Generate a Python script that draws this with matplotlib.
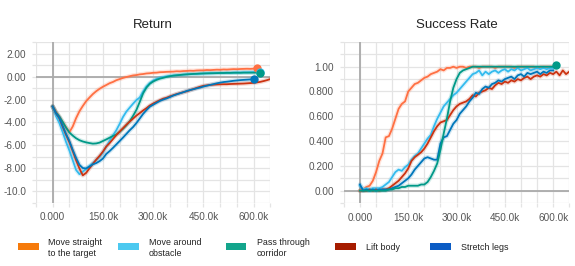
import numpy as np
import matplotlib
matplotlib.use("Agg")
import matplotlib.pyplot as plt
from matplotlib.patches import Rectangle
from matplotlib.ticker import MultipleLocator, FixedLocator, FixedFormatter

plt.rcParams['font.family'] = ['Liberation Sans', 'DejaVu Sans']

# training steps (k), one sample every 10k
steps = np.arange(0, 651, 10) * 1000

labels = ["Move straight\nto the target", "Move around\nobstacle", "Pass through\ncorridor",
          "Lift body", "Stretch legs"]
line_colors = ["#ff7043", "#33bbee", "#009988", "#cc3311", "#0077bb"]
legend_colors = ["#f67a0a", "#4cc9f0", "#13a58c", "#a61c00", "#0b5cc4"]

# Return
ret_straight = [-2.60, -3.08, -3.52, -3.97, -4.42, -4.85, -4.35, -3.62, -3.02, -2.56,
                -2.14, -1.82, -1.52, -1.27, -1.06, -0.88, -0.73, -0.57, -0.46, -0.31,
                -0.21, -0.11, -0.03, 0.04, 0.11, 0.14, 0.20, 0.23, 0.28, 0.30,
                0.34, 0.35, 0.39, 0.40, 0.42, 0.43, 0.44, 0.47, 0.46, 0.49,
                0.50, 0.52, 0.51, 0.54, 0.55, 0.55, 0.58, 0.57, 0.59, 0.61,
                0.60, 0.63, 0.62, 0.64, 0.66, 0.65, 0.67, 0.68, 0.69, 0.68,
                0.70, 0.73]
ret_obstacle = [-2.60, -3.45, -4.05, -4.85, -5.70, -6.45, -7.30, -8.15, -8.52, -8.30,
                -8.05, -7.80, -7.55, -7.28, -7.00, -6.62, -6.12, -5.60, -5.12, -4.68,
                -4.12, -3.52, -3.05, -2.70, -2.36, -2.04, -1.82, -1.30, -0.86, -0.55,
                -0.34, -0.20, -0.10, -0.03, 0.03, 0.07, 0.10, 0.13, 0.15, 0.18,
                0.20, 0.22, 0.23, 0.25, 0.26, 0.28, 0.29, 0.29, 0.31, 0.32,
                0.33, 0.33, 0.35, 0.34, 0.36, 0.37, 0.36, 0.38, 0.38, 0.39,
                0.40, 0.41, 0.42]
ret_corridor = [-2.60, -3.12, -3.48, -3.95, -4.45, -4.88, -5.15, -5.38, -5.55, -5.66,
                -5.74, -5.80, -5.85, -5.83, -5.76, -5.62, -5.48, -5.33, -5.18, -5.05,
                -4.82, -4.55, -4.25, -3.90, -3.42, -2.90, -2.20, -1.45, -0.95, -0.62,
                -0.42, -0.28, -0.17, -0.10, -0.02, 0.04, 0.09, 0.12, 0.15, 0.18,
                0.20, 0.22, 0.24, 0.25, 0.27, 0.28, 0.29, 0.30, 0.30, 0.31,
                0.32, 0.32, 0.33, 0.33, 0.34, 0.34, 0.34, 0.35, 0.35, 0.35,
                0.35, 0.36, 0.36]
ret_lift = [-2.60, -3.20, -3.62, -4.38, -5.08, -5.72, -6.50, -7.30, -8.02, -8.62,
            -8.40, -8.00, -7.62, -7.25, -6.92, -6.55, -6.10, -5.80, -5.45, -5.10,
            -4.80, -4.50, -4.20, -3.92, -3.66, -3.40, -3.18, -2.95, -2.75, -2.52,
            -2.35, -2.20, -2.05, -1.92, -1.84, -1.72, -1.62, -1.52, -1.44, -1.35,
            -1.28, -1.18, -1.08, -0.98, -0.88, -0.80, -0.76, -0.72, -0.70, -0.68,
            -0.67, -0.66, -0.66, -0.64, -0.63, -0.62, -0.61, -0.60, -0.58, -0.56,
            -0.54, -0.50, -0.45, -0.38, -0.30, -0.20]
ret_stretch = [-2.60, -3.18, -3.60, -4.30, -5.00, -5.62, -6.40, -7.10, -7.70, -7.98,
               -8.02, -7.85, -7.65, -7.55, -7.38, -7.15, -6.75, -6.50, -6.22, -5.92,
               -5.62, -5.32, -5.00, -4.68, -4.40, -4.05, -3.65, -3.25, -2.92, -2.62,
               -2.45, -2.28, -2.12, -2.00, -1.90, -1.78, -1.65, -1.55, -1.45, -1.36,
               -1.25, -1.17, -1.10, -1.02, -0.95, -0.86, -0.79, -0.72, -0.65, -0.58,
               -0.52, -0.47, -0.44, -0.40, -0.36, -0.33, -0.30, -0.28, -0.26, -0.24,
               -0.23]

# Success rate
succ_straight = [0.00, 0.01, 0.03, 0.04, 0.08, 0.15, 0.24, 0.30, 0.43, 0.44,
                 0.50, 0.58, 0.66, 0.70, 0.72, 0.80, 0.83, 0.86, 0.87, 0.89,
                 0.91, 0.92, 0.94, 0.95, 0.96, 0.98, 0.97, 0.99, 0.99, 1.00,
                 0.99, 1.00, 1.00, 0.99, 1.00, 1.00, 1.00, 0.99, 1.00, 1.00,
                 1.00, 1.00, 0.99, 1.00, 1.00, 1.00, 1.00, 1.00, 0.99, 1.00,
                 1.00, 1.00, 1.00, 1.00, 1.00, 0.99, 1.00, 1.00, 1.00, 1.00,
                 1.00]
succ_obstacle = [0.04, 0.01, 0.02, 0.01, 0.02, 0.02, 0.02, 0.03, 0.05, 0.07,
                 0.11, 0.15, 0.17, 0.16, 0.19, 0.21, 0.25, 0.28, 0.30, 0.34,
                 0.38, 0.42, 0.45, 0.52, 0.58, 0.63, 0.68, 0.71, 0.74, 0.77,
                 0.79, 0.82, 0.85, 0.88, 0.91, 0.94, 0.95, 0.97, 0.93, 0.96,
                 0.94, 0.96, 0.97, 0.95, 0.97, 0.98, 0.96, 0.98, 0.97, 0.99,
                 0.97, 0.98, 0.99, 0.97, 0.98, 0.99, 0.98, 0.99, 0.98, 0.99,
                 0.99, 1.00]
succ_corridor = [0.00, 0.00, 0.00, 0.00, 0.00, 0.00, 0.00, 0.00, 0.00, 0.01,
                 0.01, 0.02, 0.02, 0.03, 0.03, 0.04, 0.04, 0.04, 0.04, 0.05,
                 0.05, 0.07, 0.11, 0.16, 0.22, 0.33, 0.46, 0.58, 0.72, 0.83,
                 0.90, 0.95, 0.97, 0.98, 0.99, 1.00, 1.00, 1.00, 1.00, 1.00,
                 1.00, 1.00, 1.00, 1.00, 1.00, 1.00, 1.00, 1.00, 1.00, 1.00,
                 1.00, 1.00, 1.00, 1.00, 1.00, 1.00, 1.00, 1.00, 1.00, 1.00,
                 1.00, 1.01]
succ_lift = [0.00, 0.00, 0.00, 0.01, 0.00, 0.01, 0.00, 0.01, 0.01, 0.02,
             0.04, 0.06, 0.08, 0.11, 0.14, 0.18, 0.24, 0.27, 0.29, 0.31,
             0.34, 0.38, 0.43, 0.48, 0.52, 0.55, 0.56, 0.57, 0.61, 0.65,
             0.68, 0.70, 0.71, 0.72, 0.74, 0.77, 0.76, 0.79, 0.80, 0.81,
             0.83, 0.82, 0.85, 0.87, 0.86, 0.88, 0.87, 0.89, 0.88, 0.90,
             0.89, 0.91, 0.92, 0.90, 0.92, 0.93, 0.92, 0.94, 0.93, 0.95,
             0.94, 0.96, 0.93, 0.97, 0.94, 0.96]
succ_stretch = [0.05, 0.00, 0.01, 0.00, 0.01, 0.00, 0.01, 0.01, 0.01, 0.01,
                0.02, 0.03, 0.04, 0.06, 0.08, 0.10, 0.13, 0.17, 0.20, 0.23,
                0.26, 0.27, 0.26, 0.25, 0.25, 0.38, 0.43, 0.44, 0.49, 0.54,
                0.57, 0.62, 0.65, 0.68, 0.72, 0.75, 0.79, 0.78, 0.82, 0.84,
                0.83, 0.86, 0.87, 0.89, 0.88, 0.90, 0.91, 0.92, 0.90, 0.93,
                0.94, 0.92, 0.95, 0.94, 0.95, 0.96, 0.94, 0.96, 0.95, 0.97,
                0.97]

x_ticks = [0, 150000, 300000, 450000, 600000]
x_labels = ["0.000", "150.0k", "300.0k", "450.0k", "600.0k"]
ret_ticks = [-10, -8, -6, -4, -2, 0, 2]
ret_labels = ["-10.0", "-8.00", "-6.00", "-4.00", "-2.00", "0.00", "2.00"]
succ_ticks = [0, 0.2, 0.4, 0.6, 0.8, 1.0]
succ_labels = ["0.00", "0.200", "0.400", "0.600", "0.800", "1.00"]

GRID = "#e4e4e4"
C_STRAIGHT, C_OBST, C_CORR, C_LIFT, C_STRETCH = line_colors


def style_axes(ax, ylim, yticks, ylabels, ystep, title):
    ax.set_xlim(-50000, 650000)
    ax.set_ylim(*ylim)
    for s in ax.spines.values():
        s.set_visible(False)
    ax.xaxis.set_major_locator(FixedLocator(x_ticks))
    ax.xaxis.set_major_formatter(FixedFormatter(x_labels))
    ax.xaxis.set_minor_locator(MultipleLocator(50000))
    ax.yaxis.set_major_locator(FixedLocator(yticks))
    ax.yaxis.set_major_formatter(FixedFormatter(ylabels))
    ax.yaxis.set_minor_locator(MultipleLocator(ystep))
    ax.grid(True, which="both", color=GRID, lw=0.9)
    ax.tick_params(which="both", length=3, width=0.9, color=GRID,
                   labelsize=7.2, labelcolor="#555555", pad=4)
    ax.axhline(0, color="#aaaaaa", lw=1.3, zorder=1.5)
    ax.axvline(0, color="#aaaaaa", lw=1.3, zorder=1.5)
    ax.set_axisbelow(True)
    ax.set_title(title, fontsize=9.5, color="#222222", pad=10)


def draw(ax, series):
    # series: list of (values, colour, end dot?)
    for vals, c, d in series:
        xs = steps[:len(vals)]
        ax.plot(xs, vals, color=c, lw=3.2, alpha=0.18, solid_capstyle="round", zorder=2)
        ax.plot(xs, vals, color=c, lw=1.3, zorder=3)
        if d:
            ax.plot(xs[-1], vals[-1], "o", color=c, ms=5, zorder=4)


fig = plt.figure(figsize=(5.75, 2.66), dpi=100)

ax1 = fig.add_axes([0.0624, 0.2383, 0.408, 0.6026])
draw(ax1, [(ret_straight, C_STRAIGHT, True),
           (ret_obstacle, C_OBST, True),
           (ret_corridor, C_CORR, True),
           (ret_lift, C_LIFT, False),
           (ret_stretch, C_STRETCH, True)])
style_axes(ax1, (-11, 3), ret_ticks, ret_labels, 1, "Return")

ax2 = fig.add_axes([0.598, 0.2365, 0.392, 0.606])
draw(ax2, [(succ_straight, C_STRAIGHT, False),
           (succ_obstacle, C_OBST, False),
           (succ_lift, C_LIFT, False),
           (succ_stretch, C_STRETCH, False),
           (succ_corridor, C_CORR, True)])
style_axes(ax2, (-0.1, 1.2), succ_ticks, succ_labels, 0.1, "Success Rate")

# legend row under the charts
patch_x = [18.3, 118.3, 225.7, 335, 430]
text_x = [48.3, 149, 256.7, 365.7, 461]
W, H = 575, 266
for px, tx, c, lab in zip(patch_x, text_x, legend_colors, labels):
    fig.add_artist(Rectangle((px / W, 1 - 249.5 / H), 20.5 / W, 6.2 / H,
                             transform=fig.transFigure, color=c, lw=0))
    fig.text(tx / W, 1 - 248 / H, lab, fontsize=6.4, color="#222222",
             va="center", ha="left", linespacing=1.35)

fig.savefig("out.png", dpi=100)
